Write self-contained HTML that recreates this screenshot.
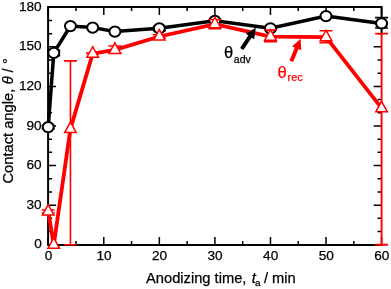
<!DOCTYPE html><html><head><meta charset="utf-8"><style>html,body{margin:0;padding:0;background:#fff;width:391px;height:289px;overflow:hidden}svg{display:block}text{font-family:"Liberation Sans",Arial,Helvetica,sans-serif;fill:#000;stroke:#000;stroke-width:0.25px}text.r{fill:#f00;stroke:#f00}</style></head><body>
<svg width="391" height="289" viewBox="0 0 391 289">
<rect width="391" height="289" fill="#fff"/>
<path d="M48.22 244.9V236.9M48.22 6.9V14.9M76.00 244.9V240.9M76.00 6.9V10.9M103.78 244.9V236.9M103.78 6.9V14.9M131.56 244.9V240.9M131.56 6.9V10.9M159.34 244.9V236.9M159.34 6.9V14.9M187.12 244.9V240.9M187.12 6.9V10.9M214.90 244.9V236.9M214.90 6.9V14.9M242.68 244.9V240.9M242.68 6.9V10.9M270.46 244.9V236.9M270.46 6.9V14.9M298.24 244.9V240.9M298.24 6.9V10.9M326.02 244.9V236.9M326.02 6.9V14.9M353.80 244.9V240.9M353.80 6.9V10.9M381.58 244.9V236.9M381.58 6.9V14.9M48.1 244.70H56.1M381.6 244.70H373.6M48.1 231.51H52.1M381.6 231.51H377.6M48.1 218.32H52.1M381.6 218.32H377.6M48.1 205.13H56.1M381.6 205.13H373.6M48.1 191.94H52.1M381.6 191.94H377.6M48.1 178.75H52.1M381.6 178.75H377.6M48.1 165.56H56.1M381.6 165.56H373.6M48.1 152.37H52.1M381.6 152.37H377.6M48.1 139.18H52.1M381.6 139.18H377.6M48.1 125.99H56.1M381.6 125.99H373.6M48.1 112.80H52.1M381.6 112.80H377.6M48.1 99.61H52.1M381.6 99.61H377.6M48.1 86.42H56.1M381.6 86.42H373.6M48.1 73.23H52.1M381.6 73.23H377.6M48.1 60.04H52.1M381.6 60.04H377.6M48.1 46.85H56.1M381.6 46.85H373.6M48.1 33.66H52.1M381.6 33.66H377.6M48.1 20.47H52.1M381.6 20.47H377.6M48.1 7.28H56.1M381.6 7.28H373.6" stroke="#000" stroke-width="1.5" fill="none"/>
<path d="M381.6 34V6.9H48.1V244.9H382.6" fill="none" stroke="#000" stroke-width="2" stroke-linejoin="miter"/>
<text id="xl0" x="48.42" y="259.9" font-size="13.6" text-anchor="middle">0</text>
<text id="xl10" x="103.98" y="259.9" font-size="13.6" text-anchor="middle">10</text>
<text id="xl20" x="159.54" y="259.9" font-size="13.6" text-anchor="middle">20</text>
<text id="xl30" x="215.10" y="259.9" font-size="13.6" text-anchor="middle">30</text>
<text id="xl40" x="270.66" y="259.9" font-size="13.6" text-anchor="middle">40</text>
<text id="xl50" x="326.22" y="259.9" font-size="13.6" text-anchor="middle">50</text>
<text id="xl60" x="381.78" y="259.9" font-size="13.6" text-anchor="middle">60</text>
<text id="yl0" x="41.7" y="248.30" font-size="13.6" text-anchor="end">0</text>
<text id="yl30" x="41.7" y="208.73" font-size="13.6" text-anchor="end">30</text>
<text id="yl60" x="41.7" y="169.16" font-size="13.6" text-anchor="end">60</text>
<text id="yl90" x="41.7" y="129.59" font-size="13.6" text-anchor="end">90</text>
<text id="yl120" x="41.7" y="90.02" font-size="13.6" text-anchor="end">120</text>
<text id="yl150" x="41.7" y="50.45" font-size="13.6" text-anchor="end">150</text>
<text id="yl180" x="41.7" y="10.88" font-size="13.6" text-anchor="end">180</text>
<text id="xt1" x="146" y="283" font-size="14.7">Anodizing time,</text>
<text id="xt2" x="251.7" y="283" font-size="14.7" font-style="italic">t</text>
<text id="xt3" x="255" y="286.3" font-size="9.8">a</text>
<text id="xt4" x="264" y="283" font-size="14.7">/</text>
<text id="xt5" x="272" y="283" font-size="14.7">min</text>
<g transform="translate(12.6 0) rotate(-90)">
<text id="yt1" x="-183.5" y="0" font-size="14.7">Contact angle,</text>
<text id="yt2" x="-84.3" y="0" font-size="14.7" font-style="italic">θ</text>
<text id="yt3" x="-72.6" y="0" font-size="14.7">/</text>
<text id="yt4" x="-64" y="0" font-size="14.7">°</text>
</g>
<polyline points="48.22,127.10 53.78,52.80 70.44,26.10 92.67,27.60 114.89,31.60 159.34,28.30 214.90,20.80 270.46,28.30 326.02,16.10 381.58,23.40" fill="none" stroke="#000" stroke-width="3.5" stroke-linejoin="miter"/>
<path d="M48.22 125.50V128.60M41.72 125.50H54.72M41.72 128.60H54.72M53.78 50.40V55.60M47.28 50.40H60.28M47.28 55.60H60.28M159.34 26.50V30.60M152.84 26.50H165.84M152.84 30.60H165.84M381.58 17.60V28.00M375.08 17.60H388.08M375.08 28.00H388.08" stroke="#000" stroke-width="1.6" fill="none"/>
<ellipse cx="48.22" cy="127.10" rx="5.5" ry="5.15" fill="#fff" stroke="#000" stroke-width="2.0"/>
<ellipse cx="53.78" cy="52.80" rx="5.5" ry="5.15" fill="#fff" stroke="#000" stroke-width="2.0"/>
<ellipse cx="70.44" cy="26.10" rx="5.5" ry="5.15" fill="#fff" stroke="#000" stroke-width="2.0"/>
<ellipse cx="92.67" cy="27.60" rx="5.5" ry="5.15" fill="#fff" stroke="#000" stroke-width="2.0"/>
<ellipse cx="114.89" cy="31.60" rx="5.5" ry="5.15" fill="#fff" stroke="#000" stroke-width="2.0"/>
<ellipse cx="159.34" cy="28.30" rx="5.5" ry="5.15" fill="#fff" stroke="#000" stroke-width="2.0"/>
<ellipse cx="214.90" cy="20.80" rx="5.5" ry="5.15" fill="#fff" stroke="#000" stroke-width="2.0"/>
<ellipse cx="270.46" cy="28.30" rx="5.5" ry="5.15" fill="#fff" stroke="#000" stroke-width="2.0"/>
<ellipse cx="326.02" cy="16.10" rx="5.5" ry="5.15" fill="#fff" stroke="#000" stroke-width="2.0"/>
<ellipse cx="381.58" cy="23.40" rx="5.5" ry="5.15" fill="#fff" stroke="#000" stroke-width="2.0"/>
<path d="M48.22 210.00V213.00M41.72 210.00H54.72M41.72 213.00H54.72M70.44 60.90V244.70M63.94 60.90H76.94M63.94 244.70H76.94M92.67 53.00V53.40M86.17 53.00H99.17M86.17 53.40H99.17M114.89 46.00V53.00M108.39 46.00H121.39M108.39 53.00H121.39M159.34 34.80V38.20M152.84 34.80H165.84M152.84 38.20H165.84M214.90 19.50V28.80M208.40 19.50H221.40M208.40 28.80H221.40M270.46 30.10V41.60M263.96 30.10H276.96M263.96 41.60H276.96M326.02 30.80V42.60M319.52 30.80H332.52M319.52 42.60H332.52" stroke="#ff0000" stroke-width="1.6" fill="none"/>
<path d="M381.60 33.60V244.70M375.10 33.60H388.10M375.10 244.70H388.10" stroke="#ff0000" stroke-width="1.9" fill="none"/>
<polyline points="48.22,211.50 53.78,244.70 70.44,129.00 92.67,53.60 114.89,49.80 159.34,36.50 214.90,24.10 270.46,36.60 326.02,37.10 381.58,108.20" fill="none" stroke="#ff0000" stroke-width="3.8" stroke-linejoin="miter"/>
<path d="M48.22 204.60L54.02 215.10L42.42 215.10Z" fill="#fff" stroke="#ff0000" stroke-width="1.5" stroke-linejoin="miter"/>
<path d="M53.78 237.80L59.58 248.30L47.98 248.30Z" fill="#fff" stroke="#ff0000" stroke-width="1.5" stroke-linejoin="miter"/>
<path d="M70.44 122.10L76.24 132.60L64.64 132.60Z" fill="#fff" stroke="#ff0000" stroke-width="1.5" stroke-linejoin="miter"/>
<path d="M92.67 46.70L98.47 57.20L86.87 57.20Z" fill="#fff" stroke="#ff0000" stroke-width="1.5" stroke-linejoin="miter"/>
<path d="M114.89 42.90L120.69 53.40L109.09 53.40Z" fill="#fff" stroke="#ff0000" stroke-width="1.5" stroke-linejoin="miter"/>
<path d="M159.34 29.60L165.14 40.10L153.54 40.10Z" fill="#fff" stroke="#ff0000" stroke-width="1.5" stroke-linejoin="miter"/>
<path d="M214.90 17.20L220.70 27.70L209.10 27.70Z" fill="#fff" stroke="#ff0000" stroke-width="1.5" stroke-linejoin="miter"/>
<path d="M270.46 29.70L276.26 40.20L264.66 40.20Z" fill="#fff" stroke="#ff0000" stroke-width="1.5" stroke-linejoin="miter"/>
<path d="M326.02 30.20L331.82 40.70L320.22 40.70Z" fill="#fff" stroke="#ff0000" stroke-width="1.5" stroke-linejoin="miter"/>
<path d="M381.58 101.30L387.38 111.80L375.78 111.80Z" fill="#fff" stroke="#ff0000" stroke-width="1.5" stroke-linejoin="miter"/>
<line x1="241.70" y1="49.00" x2="250.56" y2="35.62" stroke="#000" stroke-width="4.0"/><path d="M255.80 27.70L254.17 39.22L245.83 33.70Z" fill="#000"/>
<line x1="291.30" y1="61.30" x2="296.98" y2="47.49" stroke="#ff0000" stroke-width="4.0"/><path d="M300.60 38.70L301.23 50.31L291.98 46.51Z" fill="#ff0000"/>
<text id="a1" x="224" y="58.4" font-size="16.5">θ</text>
<text id="a2" x="233.8" y="62.7" font-size="10.5">adv</text>
<text id="r1" x="277.6" y="78.4" font-size="16.5" class="r">θ</text>
<text id="r2" x="287.6" y="81.3" font-size="10.8" class="r">rec</text>
</svg></body></html>
